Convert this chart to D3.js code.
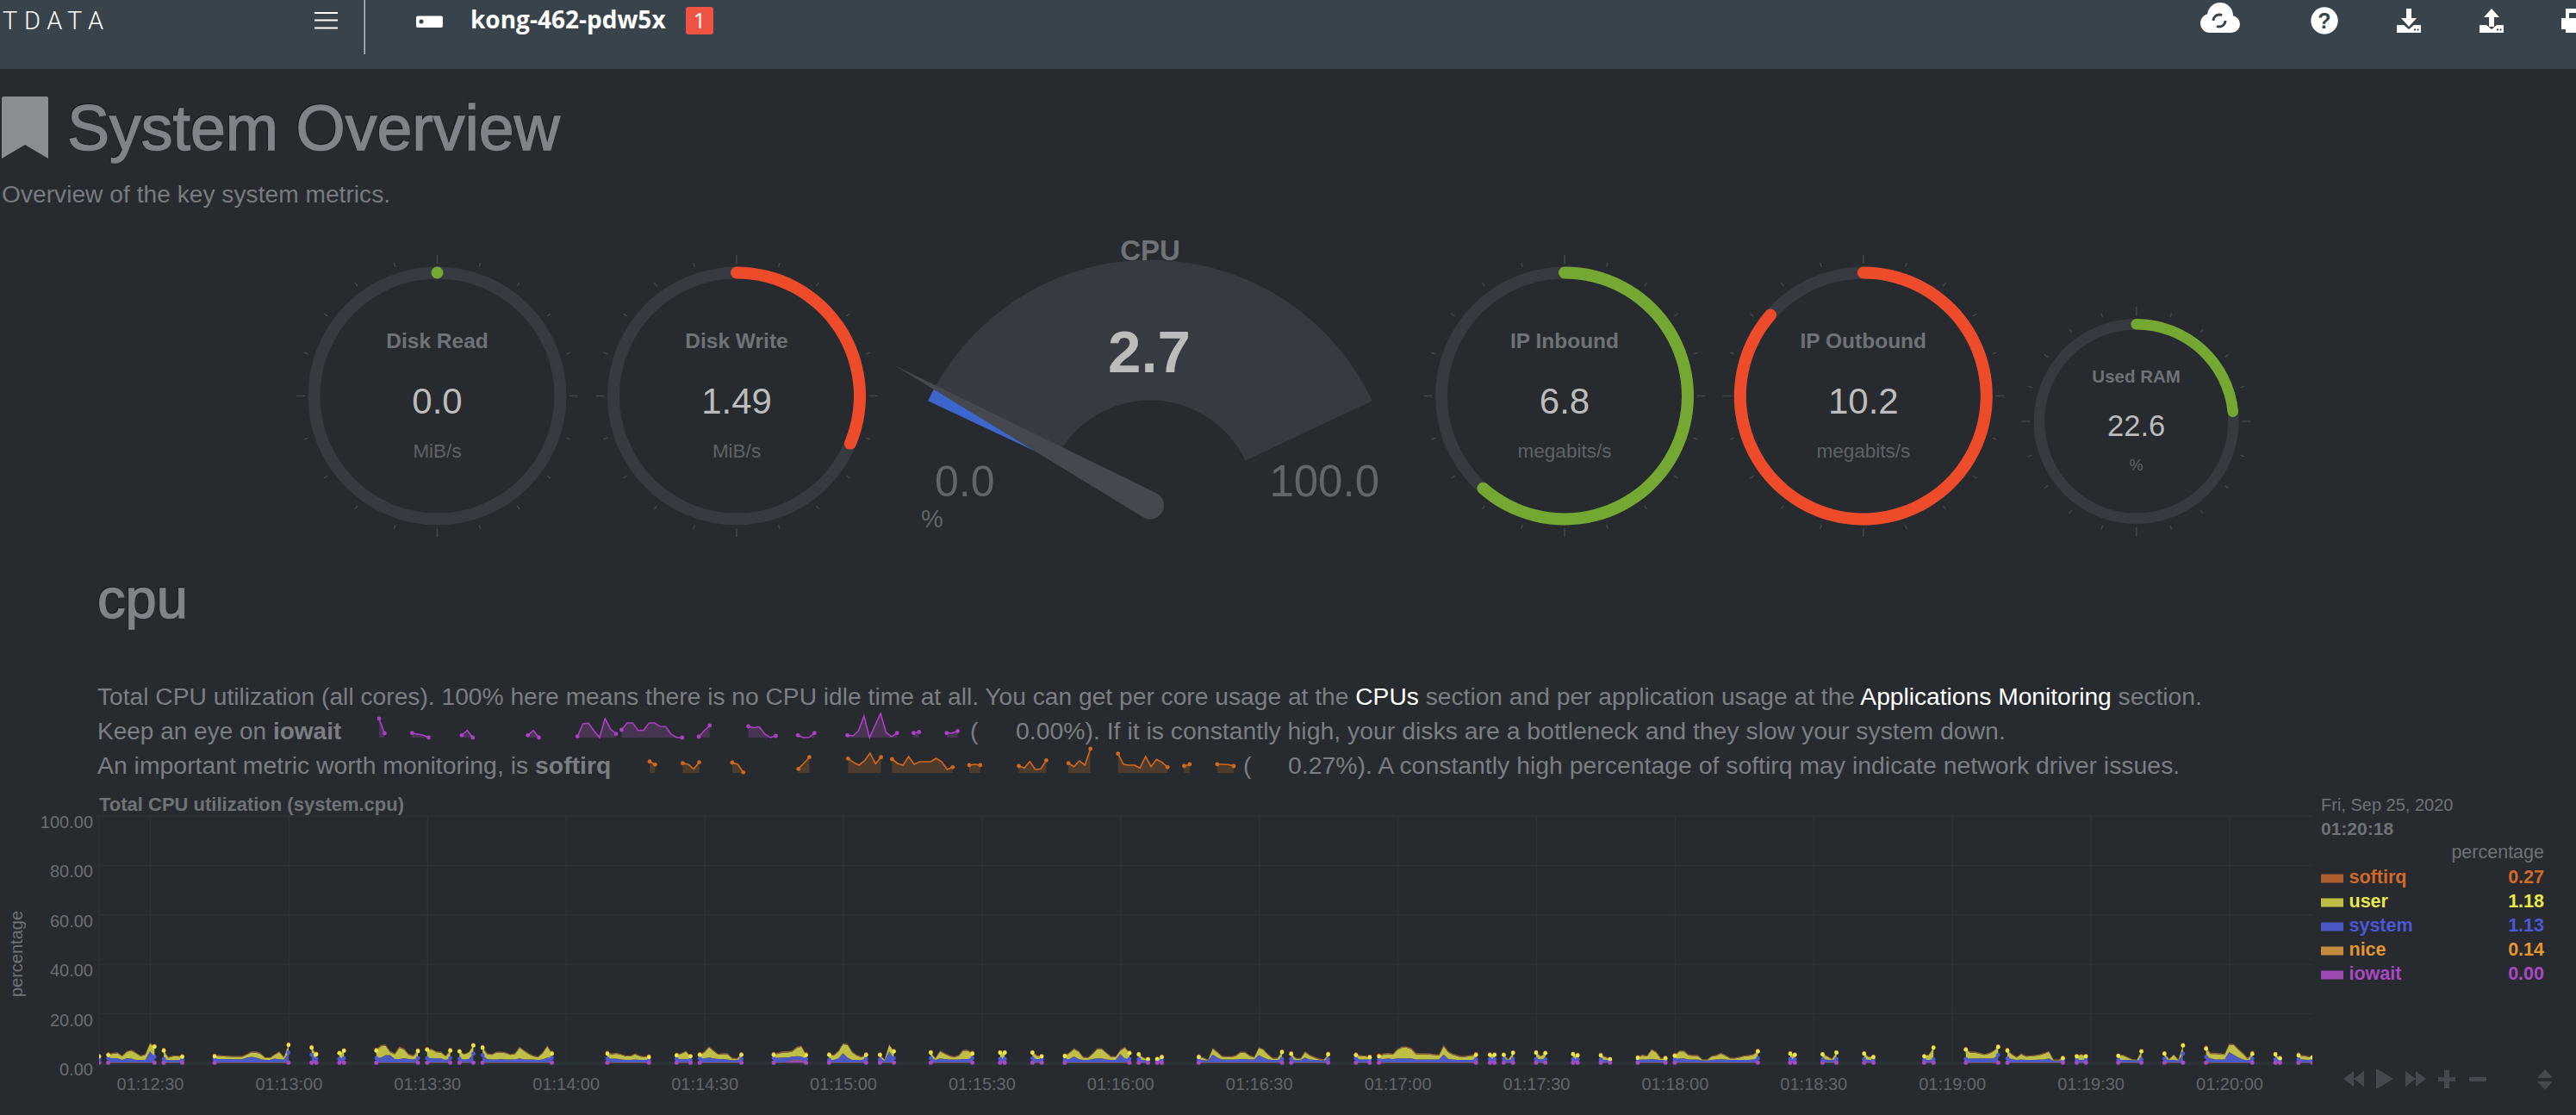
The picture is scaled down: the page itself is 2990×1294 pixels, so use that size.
<!DOCTYPE html>
<html>
<head>
<meta charset="utf-8">
<title>System Overview</title>
<script src="https://cdn.jsdelivr.net/npm/d3@7"></script>
<style>
  html, body { margin: 0; padding: 0; background: #272a2e; overflow: hidden; }
  svg { display: block; font-family: "Liberation Sans", Arial, sans-serif; }
  .heading { filter: drop-shadow(-1px -1px 0 #17191c); }
</style>
</head>
<body>
<svg id="page" width="2990" height="1294"></svg>
<script>
// gauges
const gaugeTitles = ['Disk Read', 'Disk Write', 'IP Inbound', 'IP Outbound', 'Used RAM']
const gaugeLabels = ['0.0', '1.49', '6.8', '10.2', '22.6']
const gaugeUnits = ['MiB/s', 'MiB/s', 'megabits/s', 'megabits/s', '%']
const gaugeFractions = [0, 0.313, 0.615, 0.864, 0.234]
const gaugeColors = ['#75a832', '#ee4b2b', '#75a832', '#ee4b2b', '#75a832']

const cpuValue = 2.7
const cpuMin = 0
const cpuMax = 100

// main chart: one nested array per contiguous run of samples
const segmentStarts = [-1, 2, 14, 25, 46, 52, 60, 71, 78, 83, 110, 125, 130, 146, 158, 169, 180, 195, 202, 209, 225, 229, 238, 258, 272, 277, 301, 304, 311, 319, 325, 333, 341, 366, 373, 382, 395, 404, 413, 428, 437, 447, 456, 471, 476]
const systemValues = [
  [1.4, 1.4],
  [1.7, 1.7, 1.7, 1, 1.7, 1.5, 1, 1, 1, 4.5, 2.3],
  [1.4, 0.9, 0.9, 0.9, 1.2],
  [1.4, 1.4, 1.4, 1.4, 1.3, 1.3, 1.3, 2, 2.2, 2, 1.3, 1, 1, 1.5, 1.3, 1.1, 3.9],
  [3.1, 1.4],
  [1.4, 1.7],
  [1.7, 2, 2.9, 2.9, 1.4, 1.4, 1.7, 1.4, 1.2, 1.7],
  [1.7, 1.7, 1.6, 1.6, 1, 1.7],
  [1.4, 1.2, 1.4, 3.5],
  [2.9, 1.4, 1.2, 1.2, 1.4, 1.2, 1.2, 1.2, 1.6, 1.2, 1.2, 1.2, 1, 1.2, 2, 1.8],
  [1.5, 1.5, 1.5, 1.2, 1, 1, 1.2, 1, 1, 1],
  [1.4, 1.3, 1.4, 1],
  [1.6, 1.6, 2, 1.6, 1.4, 1.4, 1.2, 0.9, 0.9, 1.4],
  [1.7, 1.9, 2, 1.6, 1.4, 1.5, 1.5, 1.3],
  [1, 1, 1.6, 3.7, 1.9, 1, 1, 1, 1.4],
  [1.2, 0.8, 4.4, 1.7],
  [1.7, 1, 1.6, 1.4, 1.2, 1.2, 1.2, 1.4, 1.4, 1.7],
  [1.4, 1.4],
  [1.6, 1.4, 1.4],
  [1.2, 1.4, 2.4, 1.4, 1, 1, 1.4, 1.6, 1.6, 1.2, 1, 1, 3.4, 1.5, 1.4],
  [1.2, 1, 1],
  [1, 1],
  [1, 0.9, 0.7, 3.2, 2, 1.2, 1.2, 1.2, 1.2, 1.4, 1.4, 1.2, 1.2, 2.9, 2, 1.2, 1, 1, 1.4],
  [1.4, 0.9, 0.9, 2, 1.2, 1, 0.9, 0.7, 1.3],
  [1.6, 1.2, 1.2, 1.2],
  [1.2, 1.4, 1.6, 1.4, 1.6, 1.6, 1.6, 1.6, 1.2, 1.2, 1.2, 1.2, 1.2, 1.2, 3.2, 1.4, 1.2, 1, 1, 1, 1, 1.2],
  [1.3, 1.3],
  [1.4, 1, 1.4],
  [1.3, 1.3, 1.2],
  [1.2, 1.2],
  [1.1, 1, 1],
  [1, 1.2, 1.2, 1.4, 1.2, 0.9, 0.9],
  [1.2, 1.6, 1.6, 1.2, 1.2, 1.2, 0.8, 0.8, 1, 1.2, 1.3, 1.2, 1, 1, 1, 1, 1, 1.2, 1.6],
  [1.3, 1.2],
  [1.2, 1.1, 0.9, 1.4],
  [1.2, 1, 1],
  [1, 1, 1.2],
  [1.4, 1.6, 1.6, 1.6, 1.6, 1.6, 1.6, 3],
  [1.6, 1.4, 1, 1.2, 1, 1, 1, 1.2, 1.2, 1.6, 0.6, 0.6, 0.9],
  [1, 1, 1],
  [1, 1, 1, 0.9, 0.8, 1.2],
  [1.4, 1, 1, 0.8, 3.5],
  [2.2, 1.6, 1.2, 1.2, 1.2, 4.2, 3, 2, 1.2, 0.9, 1.4],
  [1.2, 1],
  [1.2, 1.2, 1, 1]
]
const userValues = [
  [1, 1],
  [1.2, 1.8, 2, 1.4, 2.5, 3.2, 2.6, 1.4, 2, 3, 4],
  [3.3, 0.9, 1.5, 1.5, 1],
  [1, 1.2, 1, 0.9, 0.9, 0.9, 0.9, 1.1, 1.8, 2, 2, 0.7, 0.7, 1.5, 2.8, 0.8, 3.1],
  [2.8, 1.8],
  [2.3, 3],
  [3, 4.5, 3.8, 1.2, 1.8, 4.5, 3.4, 1.6, 1.2, 2.8],
  [3.4, 3.4, 2.5, 2.3, 1.4, 3],
  [3, 2, 2.5, 3.3],
  [3, 1.9, 1.8, 2.7, 2.5, 2.5, 1.8, 2.1, 4.3, 3.3, 2.1, 1.2, 1, 2.5, 4.5, 1.7],
  [2, 1.7, 2, 1.8, 1.4, 1.4, 2, 1.4, 1.1, 1.1],
  [1.4, 2.2, 3, 1.4],
  [1.4, 2.4, 4.1, 2.9, 1.7, 1.9, 2.1, 0.6, 0.4, 1.6],
  [1.3, 1.6, 2, 2, 2, 3.3, 3.9, 1.6],
  [2, 1.7, 2.7, 3.6, 5.1, 3, 1.7, 1, 1.6],
  [1.8, 0.2, 2.7, 2.7],
  [2.2, 0.5, 2.8, 2, 1.3, 0.8, 1.3, 3.3, 3.3, 1.8],
  [2.5, 2.5],
  [2.3, 1.2, 1],
  [1.3, 2.3, 2.9, 2.9, 0.9, 0.7, 1.9, 3.7, 3.7, 2.5, 1.1, 1.1, 1.3, 4.4, 2.3],
  [2, 0.8, 0.2],
  [0.3, 1.1],
  [1.1, 0.8, 0.1, 2.3, 2, 1.1, 0.9, 0.9, 1.3, 2.5, 2.5, 1.3, 0.7, 2.9, 3, 1.8, 0.5, 0.5, 2.7],
  [2, 0.6, 0.4, 2.1, 1.5, 0.9, 0.3, 0.1, 1.9],
  [1.3, 1.3, 1.2, 0.8],
  [1.2, 1.7, 1.8, 1.6, 3.4, 4.3, 4.3, 3.7, 2.1, 2, 2, 1.9, 1.7, 1.6, 3.3, 2.6, 1.8, 1.4, 1, 1.3, 1.5, 1.8],
  [1.7, 1.7],
  [1.6, 0.1, 2.4],
  [2.6, 1.1, 2.5],
  [2.1, 1.6],
  [1.7, 1.1, 0.2],
  [0.8, 1.6, 1.2, 3.6, 2.8, 0.5, 0.7],
  [1.4, 2.8, 2.8, 1.6, 1.4, 1.4, 0.1, 0.1, 1.3, 1.4, 2.2, 1.4, 0.5, 0.5, 0.9, 1.4, 1.6, 1.8, 2.8],
  [2.2, 1.8],
  [2, 1.3, 0.3, 2.5],
  [2.3, 1.1, 1.1],
  [1.4, 2, 4.7],
  [3.7, 2.3, 2.3, 1.9, 1.4, 1.9, 2.8, 3.2],
  [3.1, 1.7, 0.9, 2, 1.3, 1.4, 1.6, 1.7, 2.3, 2.6, 0.2, 0.2, 0.7],
  [1.4, 2.2, 1.4],
  [1.6, 1.8, 0.9, 0.2, 0.05, 3.2],
  [2.1, 0.2, 2, 0.1, 3.3],
  [3.3, 1.8, 2.2, 2, 1.8, 2.9, 3.9, 3, 2.2, 0.5, 2],
  [2, 0.6],
  [1.6, 1.3, 1.2, 0.9]
]
// too thin to read per sample: one level for each run
const softirqLevels = [0.3, 0.4, 0.4, 0.4, 0.4, 0.3, 0.5, 0.4, 0.3, 0.4, 0.4, 0.3, 0.4, 0.5, 0.4, 0.3, 0.4, 0.3, 0.3, 0.4, 0.3, 0.3, 0.4, 0.4, 0.4, 0.5, 0.3, 0.3, 0.3, 0.3, 0.3, 0.4, 0.4, 0.3, 0.3, 0.3, 0.3, 0.4, 0.4, 0.3, 0.3, 0.3, 0.5, 0.3, 0.4]
const niceLevels = [0.1, 0.1, 0.1, 0.1, 0.1, 0.1, 0.1, 0.1, 0.1, 0.1, 0.1, 0.1, 0.1, 0.1, 0.1, 0.1, 0.1, 0.1, 0.1, 0.1, 0.1, 0.1, 0.1, 0.1, 0.1, 0.1, 0.1, 0.1, 0.1, 0.1, 0.1, 0.1, 0.1, 0.1, 0.1, 0.1, 0.1, 0.1, 0.1, 0.1, 0.1, 0.1, 0.1, 0.1, 0.1]
const iowaitLevel = 0.1
const iowaitBumpStart = 149
const iowaitBump = [0.5, 1, 1.1, 1]

const yTicks = [0, 20, 40, 60, 80, 100]
const legendLabels = ['softirq', 'user', 'system', 'nice', 'iowait']
const legendValues = ['0.27', '1.18', '1.13', '0.14', '0.00']
const legendColors = ['#d2692a', '#e8e84a', '#4b58d8', '#e6962f', '#a948c4']
const legendSwatches = ['#ad5f2e', '#bfbf45', '#4c58c4', '#c48a3e', '#9c49b2']

// inline sparklines in the description text
const sparkStarts = [0, 6, 15, 27, 36, 44, 58, 67, 76, 85, 97, 103]
const iowaitSpark = [
  [22, 5],
  [5.3, 4, 2.7, 0],
  [2.7, 8.3, 0],
  [2.7, 8.3, 0],
  [1.3, 16, 16.7, 8, 0, 22, 10, 4.3],
  [9, 17, 17, 8.5, 8.5, 17, 17, 13, 12.7, 4, 0, 0],
  [1, 8, 14],
  [13, 11.5, 12.5, 4, 0, 2],
  [2.7, 0, 0, 5.3],
  [2.7, 2, 8, 25, 0, 14, 28, 6, 1, 5.3],
  [5.3, 6.5],
  [5.3, 5.3, 7.5]
]
const softirqSpark = [
  [13.3, 9.7],
  [11.3, 10, 4.7, 12.3],
  [12, 10, 0.7],
  [4.7, 11.3, 18.3],
  [16.7, 12.3, 9, 14, 23, 10.7, 18.3],
  [16, 11, 9, 19, 10, 13, 13, 13, 17, 13, 4, 6.7],
  [9, 10, 9],
  [8, 5.7, 13.3, 4, 4.7, 14.7],
  [11.3, 7.3, 14, 9, 28],
  [22.3, 10, 9, 9, 5.7, 19, 7.3, 15.7, 12.3, 6.7],
  [8, 10],
  [10, 10, 9.7, 8]
]

const headerBg = '#39434c'
const track = '#373a40'
const tickColor = '#45484d'
const dimText = '#6f7277'
const bodyText = '#7b7e83'
const needle = '#45484e'

const svg = d3.select('#page')

const addText = (parent, x, y, str, size, fill, opts = {}) => {
  const t = parent.append('text')
    .attr('x', x)
    .attr('y', y)
    .attr('font-size', size)
    .attr('fill', fill)
    .attr('text-anchor', opts.anchor || 'start')
    .attr('font-weight', opts.weight || 'normal')
    .text(str)
  if (opts.family) t.attr('font-family', opts.family)
  return t
}

const drawHeader = () => {
  const g = svg.append('g')
  g.append('rect').attr('width', 2990).attr('height', 80).attr('fill', headerBg)
  addText(g, 3, 34, 'TDATA', 29, '#fff', { family: 'Roboto', weight: 300 }).attr('letter-spacing', 7.6)
  for (const y of [15, 23.5, 32.5]) {
    g.append('rect').attr('x', 365).attr('y', y - 1).attr('width', 27).attr('height', 2).attr('fill', '#fff')
  }
  g.append('rect').attr('x', 422.5).attr('y', 0).attr('width', 1.5).attr('height', 63).attr('fill', '#b9bdc1')

  g.append('rect').attr('x', 483).attr('y', 18.5).attr('width', 31).attr('height', 13.5).attr('rx', 2).attr('fill', '#fff')
  g.append('circle').attr('cx', 489).attr('cy', 25).attr('r', 2.5).attr('fill', headerBg)
  addText(g, 546, 33, 'kong-462-pdw5x', 28, '#fff', { family: 'Open Sans', weight: 700 })
  g.append('rect').attr('x', 796).attr('y', 8).attr('width', 32).attr('height', 32).attr('rx', 3).attr('fill', '#ef5343')
  addText(g, 812, 33, '1', 25, '#fff', { anchor: 'middle', family: 'Open Sans' })

  // cloud
  for (const [cx, cy, r] of [[2565, 27, 11], [2577, 18, 15], [2590, 28, 10]]) {
    g.append('circle').attr('cx', cx).attr('cy', cy).attr('r', r).attr('fill', '#fff')
  }
  g.append('rect').attr('x', 2565).attr('y', 26).attr('width', 25).attr('height', 12).attr('fill', '#fff')
  g.append('circle').attr('cx', 2576).attr('cy', 24).attr('r', 7)
    .attr('fill', 'none').attr('stroke', headerBg).attr('stroke-width', 3).attr('stroke-dasharray', '14 8')
  // help
  g.append('circle').attr('cx', 2698).attr('cy', 24).attr('r', 15.7).attr('fill', '#fff')
  addText(g, 2698, 33, '?', 25, headerBg, { anchor: 'middle', weight: 700 })
  // download, upload
  const tray = x => {
    g.append('path').attr('d', `M${x} 29h8l6 5 6-5h8v9h-28z`).attr('fill', '#fff')
    g.append('rect').attr('x', x + 20).attr('y', 33.5).attr('width', 2).attr('height', 2).attr('fill', headerBg)
    g.append('rect').attr('x', x + 23.5).attr('y', 33.5).attr('width', 2).attr('height', 2).attr('fill', headerBg)
  }
  tray(2782)
  g.append('path').attr('d', 'M2793 10h6v11h6l-9 10-9-10h6z').attr('fill', '#fff')
  tray(2878)
  g.append('path').attr('d', 'M2892 10l9 10h-6v11h-6v-11h-6z').attr('fill', '#fff')
  // print
  g.append('path').attr('d', 'M2978 10h12v5h-8v6h8v17h-12v-4h-5v-13h5z').attr('fill', '#fff')
}

const drawTitles = () => {
  svg.append('path').attr('d', 'M4 112h50a2 2 0 0 1 2 2v70l-27-16-27 16v-70a2 2 0 0 1 2-2z').attr('fill', '#8a8d91')
  addText(svg, 78, 174, 'System Overview', 73.5, '#80848a')
    .attr('class', 'heading')
    .attr('stroke', '#80848a')
    .attr('stroke-width', 1.4)
  addText(svg, 2, 235, 'Overview of the key system metrics.', 28.2, '#787b80')
  addText(svg, 113, 717, 'cpu', 65, '#80848a')
    .attr('class', 'heading')
    .attr('stroke', '#80848a')
    .attr('stroke-width', 1.4)
}

const gaugeLayout = [
  { cx: 507.5, cy: 459.5, r: 150, w: 14 },
  { cx: 855, cy: 459.5, r: 150, w: 14 },
  { cx: 1816, cy: 459.5, r: 150, w: 14 },
  { cx: 2162.8, cy: 459.5, r: 150, w: 14 },
  { cx: 2479.6, cy: 489, r: 119, w: 12.5 }
]

const drawRing = i => {
  const { cx, cy, r, w } = gaugeLayout[i]
  const small = r < 130
  const g = svg.append('g').attr('transform', `translate(${cx},${cy})`)
  const arc = d3.arc().innerRadius(r - w).outerRadius(r)
  g.append('path').attr('d', arc({ startAngle: 0, endAngle: 2 * Math.PI })).attr('fill', track)

  const tickOuter = r + (small ? 14 : 13.5)
  for (const k of d3.range(20)) {
    const a = k / 20 * 2 * Math.PI
    const inner = k % 5 === 0 ? tickOuter - 10 : tickOuter - 6
    g.append('line')
      .attr('x1', Math.sin(a) * inner)
      .attr('y1', -Math.cos(a) * inner)
      .attr('x2', Math.sin(a) * (tickOuter - (k % 5 === 0 ? 0 : 1)))
      .attr('y2', -Math.cos(a) * (tickOuter - (k % 5 === 0 ? 0 : 1)))
      .attr('stroke', tickColor)
      .attr('stroke-width', 1.5)
  }

  const pad = w / 2 / (r - w / 2)
  g.append('path')
    .attr('d', arc.cornerRadius(w / 2)({
      startAngle: -pad,
      endAngle: gaugeFractions[i] * 2 * Math.PI + pad
    }))
    .attr('fill', gaugeColors[i])

  if (small) {
    addText(g, 0, -45, gaugeTitles[i], 20.5, dimText, { anchor: 'middle', weight: 700 })
    addText(g, 0, 17, gaugeLabels[i], 34.5, '#bcbcbc', { anchor: 'middle' })
    addText(g, 0, 57, gaugeUnits[i], 18, '#5f6267', { anchor: 'middle' })
  } else {
    addText(g, 0, -55.5, gaugeTitles[i], 24.5, dimText, { anchor: 'middle', weight: 700 })
    addText(g, 0, 20.5, gaugeLabels[i], 42, '#bcbcbc', { anchor: 'middle' })
    addText(g, 0, 71, gaugeUnits[i], 22.5, '#5f6267', { anchor: 'middle' })
  }
}

const drawCpuGauge = () => {
  const cx = 1335
  const cy = 586.5
  const g = svg.append('g').attr('transform', `translate(${cx},${cy})`)
  const limit = 64.8 * Math.PI / 180
  const angle = d3.scaleLinear().domain([cpuMin, cpuMax]).range([-limit, limit])
  const arc = d3.arc().innerRadius(122).outerRadius(285)
  g.append('path').attr('d', arc({ startAngle: angle(cpuValue), endAngle: limit })).attr('fill', track)
  g.append('path').attr('d', arc({ startAngle: -limit, endAngle: angle(cpuValue) })).attr('fill', '#3c66cc')

  const a = angle(cpuValue)
  const len = 339
  const rb = 16
  const tip = [Math.sin(a) * len, -Math.cos(a) * len]
  const side = [Math.cos(a) * rb, Math.sin(a) * rb]
  g.append('path')
    .attr('d', `M${tip}L${side}L${[-side[0], -side[1]]}Z`)
    .attr('fill', needle)
  g.append('circle').attr('r', rb).attr('fill', needle)

  addText(svg, cx, 301.5, 'CPU', 33, dimText, { anchor: 'middle', weight: 700 })
  addText(svg, cx - 1, 432, String(cpuValue), 69, '#bcbcbc', { anchor: 'middle', weight: 700 })
  addText(svg, 1085, 576, cpuMin.toFixed(1), 50, '#62656a')
  addText(svg, 1601, 576, cpuMax.toFixed(1), 51, '#62656a', { anchor: 'end' })
  addText(svg, 1069, 612, '%', 29, '#62656a')
}

const drawDescription = () => {
  const fs = 28.2
  const fsWide = 28.4
  const line1 = addText(svg, 113, 818, '', fs, bodyText)
  const parts = [
    ['Total CPU utilization (all cores). 100% here means there is no CPU idle time at all. You can get per core usage at the ', bodyText],
    ['CPUs', '#fff'],
    [' section and per application usage at the ', bodyText],
    ['Applications Monitoring', '#fff'],
    [' section.', bodyText]
  ]
  for (const [str, fill] of parts) line1.append('tspan').attr('fill', fill).text(str)

  addText(svg, 113, 858, 'Keep an eye on ', 28, bodyText).append('tspan').attr('font-weight', 700).text('iowait')
  addText(svg, 1126, 858, '(', fs, bodyText)
  addText(svg, 1179, 858, '0.00%). If it is constantly high, your disks are a bottleneck and they slow your system down.', fsWide, bodyText)

  addText(svg, 113, 898, 'An important metric worth monitoring, is ', fsWide, bodyText).append('tspan').attr('font-weight', 700).text('softirq')
  addText(svg, 1443, 898, '(', fs, bodyText)
  addText(svg, 1495, 898, '0.27%). A constantly high percentage of softirq may indicate network driver issues.', fsWide, bodyText)
}

const drawSpark = (series, x0, base, color, fill) => {
  const g = svg.append('g').attr('transform', `translate(${x0},${base})`)
  const x = d3.scaleLinear().domain([0, 106]).range([0, 678])
  const y = d3.scaleLinear().domain([0, 30]).range([0, -30])
  series.forEach((vals, s) => {
    const pts = vals.map((v, i) => [sparkStarts[s] + i, v])
    const area = d3.area().x(d => x(d[0])).y0(y(0)).y1(d => y(d[1]))
    const line = d3.line().x(d => x(d[0])).y(d => y(d[1]))
    g.append('path').attr('d', area(pts)).attr('fill', fill)
    g.append('path').attr('d', line(pts)).attr('fill', 'none').attr('stroke', color).attr('stroke-width', 1.6)
    for (const p of [pts[0], pts[pts.length - 1]]) {
      g.append('circle').attr('cx', x(p[0])).attr('cy', y(p[1])).attr('r', 2.4).attr('fill', color)
    }
  })
}

const drawChart = () => {
  const left = 115
  const right = 2684
  const top = 946.5
  const bottom = 1233.5
  const t0 = new Date(2020, 8, 25, 1, 12, 19)
  const t1 = new Date(2020, 8, 25, 1, 20, 18)
  const x = d3.scaleTime().domain([t0, t1]).range([left, right])
  const y = d3.scaleLinear().domain([0, 100]).range([bottom, top])
  const at = sec => new Date(t0.getTime() + sec * 1000)

  addText(svg, 115, 941, 'Total CPU utilization (system.cpu)', 22, dimText, { weight: 700 })

  const gridColor = '#2b3336'
  const xAxis = d3.axisBottom(x)
    .ticks(d3.timeSecond.every(30))
    .tickSize(top - bottom)
    .tickPadding(0)
    .tickFormat(d3.timeFormat('%H:%M:%S'))
  const xg = svg.append('g').attr('transform', `translate(0,${bottom})`).call(xAxis)
  xg.select('.domain').remove()
  xg.selectAll('line').attr('stroke', gridColor).attr('stroke-width', 1.5)
  xg.selectAll('text')
    .attr('y', 31)
    .attr('dy', 0)
    .attr('font-size', 20)
    .attr('font-family', '"Liberation Sans"')
    .attr('fill', '#62666a')

  const yAxis = d3.axisLeft(y)
    .tickValues(yTicks)
    .tickSize(left - right)
    .tickPadding(0)
    .tickFormat(d => d.toFixed(2))
  const yg = svg.append('g').attr('transform', `translate(${left},0)`).call(yAxis)
  yg.select('.domain').remove()
  yg.selectAll('line').attr('stroke', gridColor).attr('stroke-width', d => d === 0 ? 4 : 1.5)
  yg.selectAll('text')
    .attr('x', -7)
    .attr('y', 14)
    .attr('dy', 0)
    .attr('font-size', 20)
    .attr('font-family', '"Liberation Sans"')
    .attr('fill', '#6b6e73')
  svg.append('line')
    .attr('x1', left).attr('x2', left).attr('y1', top).attr('y2', bottom)
    .attr('stroke', gridColor).attr('stroke-width', 1.5)

  svg.append('text')
    .attr('transform', `translate(26,1107) rotate(-90)`)
    .attr('text-anchor', 'middle')
    .attr('font-size', 20)
    .attr('fill', dimText)
    .text('percentage')

  svg.append('clipPath').attr('id', 'plot')
    .append('rect').attr('x', left).attr('y', top - 5).attr('width', right - left).attr('height', bottom - top + 12)
  const plot = svg.append('g').attr('clip-path', 'url(#plot)')

  // stacked bottom to top
  const keys = ['iowait', 'nice', 'system', 'user', 'softirq']
  const fills = { iowait: '#9c49b2', nice: '#c48a3e', system: '#4c58c4', user: '#bfbf45', softirq: '#96603a' }
  const lines = { iowait: '#a948c4', nice: '#e6962f', system: '#4b58d8', user: '#e8e84a', softirq: '#d2692a' }
  const stack = d3.stack().keys(keys)
  const dots = { iowait: [], nice: [], system: [], user: [], softirq: [] }

  segmentStarts.forEach((start, s) => {
    const rows = systemValues[s].map((sys, i) => {
      const t = start + i
      const bump = iowaitBump[t - iowaitBumpStart]
      return {
        t,
        iowait: bump === undefined ? iowaitLevel : bump,
        nice: niceLevels[s],
        system: sys,
        user: userValues[s][i],
        softirq: softirqLevels[s]
      }
    })
    const area = d3.area()
      .x((d, i) => x(at(rows[i].t)))
      .y0(d => y(d[0]))
      .y1(d => y(d[1]))
    for (const layer of stack(rows)) {
      plot.append('path').attr('d', area(layer)).attr('fill', fills[layer.key])
      for (const i of [0, rows.length - 1]) {
        dots[layer.key].push([x(at(rows[i].t)), y(layer[i][1])])
      }
    }
  })

  const dotRadius = { iowait: 2.5, nice: 1.8, system: 2.4, user: 2.4, softirq: 2.2 }
  for (const key of ['softirq', 'nice', 'system', 'user', 'iowait']) {
    plot.append('g').selectAll('circle').data(dots[key]).join('circle')
      .attr('cx', d => d[0]).attr('cy', d => d[1]).attr('r', dotRadius[key]).attr('fill', lines[key])
  }
}

const drawLegend = () => {
  const g = svg.append('g')
  addText(g, 2694, 941, 'Fri, Sep 25, 2020', 20, dimText)
  addText(g, 2694, 968.5, '01:20:18', 21, dimText, { weight: 700 })
  addText(g, 2953, 996, 'percentage', 21.5, dimText, { anchor: 'end' })
  legendLabels.forEach((label, i) => {
    const y = 1024.5 + i * 28
    g.append('rect').attr('x', 2694).attr('y', y - 10).attr('width', 26).attr('height', 10).attr('fill', legendSwatches[i])
    addText(g, 2726.5, y, label, 21.5, legendColors[i], { weight: 700 })
    addText(g, 2953, y, legendValues[i], 21.5, legendColors[i], { anchor: 'end', weight: 700 })
  })

  // playback and zoom controls
  const icons = [
    'M2732 1243v18l-12-9zM2744 1243v18l-12-9z',
    'M2758 1240l20 12-20 12z',
    'M2792 1243l12 9-12 9zM2804 1243l12 9-12 9z',
    'M2837 1242h6v8h7v5h-7v8h-6v-8h-7v-5h7z',
    'M2866 1250h20v5h-20z',
    'M2954 1241l9 10h-18zM2945 1255h18l-9 10z'
  ]
  for (const d of icons) g.append('path').attr('d', d).attr('fill', needle)
}

drawHeader()
drawTitles()
gaugeTitles.forEach((t, i) => drawRing(i))
drawCpuGauge()
drawDescription()
drawSpark(iowaitSpark, 440, 856, '#ad3fc6', '#473552')
drawSpark(softirqSpark, 754, 897, '#d3681f', '#4d3b2d')
drawChart()
drawLegend()
</script>
</body>
</html>
